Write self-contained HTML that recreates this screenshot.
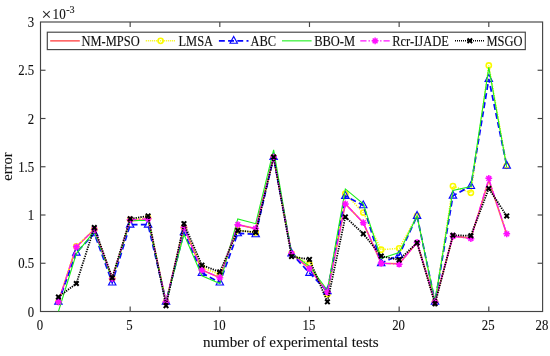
<!DOCTYPE html><html><head><meta charset="utf-8"><title>chart</title>
<style>html,body{margin:0;padding:0;background:#fff;}svg{display:block;}text{font-family:"Liberation Serif","Times New Roman",serif;fill:#111;stroke:#111;stroke-width:0.1;}</style></head><body>
<svg width="550" height="356" viewBox="0 0 550 356">
<rect x="0" y="0" width="550" height="356" fill="#fff"/>
<defs><clipPath id="c"><rect x="40.50" y="22.00" width="502.10" height="289.50"/></clipPath></defs>
<rect x="40.50" y="22.00" width="502.10" height="289.50" fill="none" stroke="#444" stroke-width="1.15"/>
<line x1="130.16" y1="311.50" x2="130.16" y2="306.50" stroke="#444" stroke-width="1.15"/>
<line x1="130.16" y1="22.00" x2="130.16" y2="27.00" stroke="#444" stroke-width="1.15"/>
<line x1="219.82" y1="311.50" x2="219.82" y2="306.50" stroke="#444" stroke-width="1.15"/>
<line x1="219.82" y1="22.00" x2="219.82" y2="27.00" stroke="#444" stroke-width="1.15"/>
<line x1="309.48" y1="311.50" x2="309.48" y2="306.50" stroke="#444" stroke-width="1.15"/>
<line x1="309.48" y1="22.00" x2="309.48" y2="27.00" stroke="#444" stroke-width="1.15"/>
<line x1="399.14" y1="311.50" x2="399.14" y2="306.50" stroke="#444" stroke-width="1.15"/>
<line x1="399.14" y1="22.00" x2="399.14" y2="27.00" stroke="#444" stroke-width="1.15"/>
<line x1="488.80" y1="311.50" x2="488.80" y2="306.50" stroke="#444" stroke-width="1.15"/>
<line x1="488.80" y1="22.00" x2="488.80" y2="27.00" stroke="#444" stroke-width="1.15"/>
<line x1="40.50" y1="263.25" x2="45.50" y2="263.25" stroke="#444" stroke-width="1.15"/>
<line x1="542.60" y1="263.25" x2="537.60" y2="263.25" stroke="#444" stroke-width="1.15"/>
<line x1="40.50" y1="215.00" x2="45.50" y2="215.00" stroke="#444" stroke-width="1.15"/>
<line x1="542.60" y1="215.00" x2="537.60" y2="215.00" stroke="#444" stroke-width="1.15"/>
<line x1="40.50" y1="166.75" x2="45.50" y2="166.75" stroke="#444" stroke-width="1.15"/>
<line x1="542.60" y1="166.75" x2="537.60" y2="166.75" stroke="#444" stroke-width="1.15"/>
<line x1="40.50" y1="118.50" x2="45.50" y2="118.50" stroke="#444" stroke-width="1.15"/>
<line x1="542.60" y1="118.50" x2="537.60" y2="118.50" stroke="#444" stroke-width="1.15"/>
<line x1="40.50" y1="70.25" x2="45.50" y2="70.25" stroke="#444" stroke-width="1.15"/>
<line x1="542.60" y1="70.25" x2="537.60" y2="70.25" stroke="#444" stroke-width="1.15"/>
<text transform="translate(39.90,329.80) scale(1,1.080)" font-size="12.8" text-anchor="middle">0</text>
<text transform="translate(129.56,329.80) scale(1,1.080)" font-size="12.8" text-anchor="middle">5</text>
<text transform="translate(219.22,329.80) scale(1,1.080)" font-size="12.8" text-anchor="middle">10</text>
<text transform="translate(308.88,329.80) scale(1,1.080)" font-size="12.8" text-anchor="middle">15</text>
<text transform="translate(398.54,329.80) scale(1,1.080)" font-size="12.8" text-anchor="middle">20</text>
<text transform="translate(488.20,329.80) scale(1,1.080)" font-size="12.8" text-anchor="middle">25</text>
<text transform="translate(542.00,329.80) scale(1,1.080)" font-size="12.8" text-anchor="middle">28</text>
<text transform="translate(34.20,316.70) scale(1,1.080)" font-size="12.8" text-anchor="end">0</text>
<text transform="translate(34.20,268.45) scale(1,1.080)" font-size="12.8" text-anchor="end">0.5</text>
<text transform="translate(34.20,220.20) scale(1,1.080)" font-size="12.8" text-anchor="end">1</text>
<text transform="translate(34.20,171.95) scale(1,1.080)" font-size="12.8" text-anchor="end">1.5</text>
<text transform="translate(34.20,123.70) scale(1,1.080)" font-size="12.8" text-anchor="end">2</text>
<text transform="translate(34.20,75.45) scale(1,1.080)" font-size="12.8" text-anchor="end">2.5</text>
<text transform="translate(34.20,27.20) scale(1,1.080)" font-size="12.8" text-anchor="end">3</text>
<text transform="translate(41.40,20.40) scale(1,1.000)" font-size="17.5" text-anchor="start">×</text>
<text transform="translate(52.60,19.30) scale(1,1.080)" font-size="13.1" text-anchor="start">10</text>
<text transform="translate(66.20,13.40) scale(1,1.040)" font-size="10.2" text-anchor="start">-3</text>
<text x="290.8" y="347" font-size="15.1" text-anchor="middle">number of experimental tests</text>
<text transform="translate(11.6,166.6) rotate(-90)" font-size="14.7" text-anchor="middle">error</text>
<g clip-path="url(#c)" fill="none">
<polyline points="58.43,301.85 76.36,246.84 94.30,229.48 112.23,278.69 130.16,220.79 148.09,219.82 166.03,301.85 183.96,227.55 201.89,270.00 219.82,277.73 237.75,224.65 255.69,228.51 273.62,157.10 291.55,253.60 309.48,268.56 327.41,292.20 345.35,203.90 363.28,222.72 381.21,263.25 399.14,263.73 417.07,242.50 435.01,301.85 452.94,236.23 470.87,238.16 488.80,180.26 506.74,234.30" fill="none" stroke="#ff6060" stroke-width="1.6"/>
<polyline points="58.43,301.85 76.36,246.36 94.30,229.48 112.23,278.69 130.16,219.82 148.09,217.89 166.03,301.85 183.96,227.55 201.89,267.59 219.82,274.35 237.75,230.44 255.69,232.37 273.62,157.10 291.55,253.60 309.48,264.22 327.41,294.13 345.35,193.77 363.28,212.59 381.21,249.74 399.14,248.29 417.07,215.96 435.01,301.85 452.94,186.05 470.87,192.81 488.80,65.43 506.74,165.78" fill="none" stroke="#f6f600" stroke-width="1.5" stroke-dasharray="1.2 1.2"/>
<circle cx="58.43" cy="301.85" r="2.6" fill="none" stroke="#fafa00" stroke-width="1.6"/>
<circle cx="76.36" cy="246.36" r="2.6" fill="none" stroke="#fafa00" stroke-width="1.6"/>
<circle cx="94.30" cy="229.48" r="2.6" fill="none" stroke="#fafa00" stroke-width="1.6"/>
<circle cx="112.23" cy="278.69" r="2.6" fill="none" stroke="#fafa00" stroke-width="1.6"/>
<circle cx="130.16" cy="219.82" r="2.6" fill="none" stroke="#fafa00" stroke-width="1.6"/>
<circle cx="148.09" cy="217.89" r="2.6" fill="none" stroke="#fafa00" stroke-width="1.6"/>
<circle cx="166.03" cy="301.85" r="2.6" fill="none" stroke="#fafa00" stroke-width="1.6"/>
<circle cx="183.96" cy="227.55" r="2.6" fill="none" stroke="#fafa00" stroke-width="1.6"/>
<circle cx="201.89" cy="267.59" r="2.6" fill="none" stroke="#fafa00" stroke-width="1.6"/>
<circle cx="219.82" cy="274.35" r="2.6" fill="none" stroke="#fafa00" stroke-width="1.6"/>
<circle cx="237.75" cy="230.44" r="2.6" fill="none" stroke="#fafa00" stroke-width="1.6"/>
<circle cx="255.69" cy="232.37" r="2.6" fill="none" stroke="#fafa00" stroke-width="1.6"/>
<circle cx="273.62" cy="157.10" r="2.6" fill="none" stroke="#fafa00" stroke-width="1.6"/>
<circle cx="291.55" cy="253.60" r="2.6" fill="none" stroke="#fafa00" stroke-width="1.6"/>
<circle cx="309.48" cy="264.22" r="2.6" fill="none" stroke="#fafa00" stroke-width="1.6"/>
<circle cx="327.41" cy="294.13" r="2.6" fill="none" stroke="#fafa00" stroke-width="1.6"/>
<circle cx="345.35" cy="193.77" r="2.6" fill="none" stroke="#fafa00" stroke-width="1.6"/>
<circle cx="363.28" cy="212.59" r="2.6" fill="none" stroke="#fafa00" stroke-width="1.6"/>
<circle cx="381.21" cy="249.74" r="2.6" fill="none" stroke="#fafa00" stroke-width="1.6"/>
<circle cx="399.14" cy="248.29" r="2.6" fill="none" stroke="#fafa00" stroke-width="1.6"/>
<circle cx="417.07" cy="215.96" r="2.6" fill="none" stroke="#fafa00" stroke-width="1.6"/>
<circle cx="435.01" cy="301.85" r="2.6" fill="none" stroke="#fafa00" stroke-width="1.6"/>
<circle cx="452.94" cy="186.05" r="2.6" fill="none" stroke="#fafa00" stroke-width="1.6"/>
<circle cx="470.87" cy="192.81" r="2.6" fill="none" stroke="#fafa00" stroke-width="1.6"/>
<circle cx="488.80" cy="65.43" r="2.6" fill="none" stroke="#fafa00" stroke-width="1.6"/>
<circle cx="506.74" cy="165.78" r="2.6" fill="none" stroke="#fafa00" stroke-width="1.6"/>
<polyline points="58.43,301.85 76.36,252.63 94.30,233.33 112.23,282.55 130.16,224.65 148.09,224.65 166.03,301.85 183.96,232.37 201.89,272.90 219.82,282.55 237.75,233.33 255.69,234.30 273.62,157.10 291.55,253.60 309.48,272.90 327.41,291.24 345.35,195.99 363.28,205.35 381.21,263.25 399.14,255.05 417.07,215.96 435.01,301.85 452.94,195.70 470.87,186.05 488.80,78.93 506.74,165.78" fill="none" stroke="#0808ff" stroke-width="1.75" stroke-dasharray="5.9 3.3"/>
<path d="M58.43 297.45 L62.13 304.27 L54.73 304.27 Z" fill="none" stroke="#0808ff" stroke-width="1.15" stroke-linejoin="miter"/>
<path d="M76.36 248.23 L80.06 255.05 L72.66 255.05 Z" fill="none" stroke="#0808ff" stroke-width="1.15" stroke-linejoin="miter"/>
<path d="M94.30 228.93 L98.00 235.75 L90.60 235.75 Z" fill="none" stroke="#0808ff" stroke-width="1.15" stroke-linejoin="miter"/>
<path d="M112.23 278.15 L115.93 284.97 L108.53 284.97 Z" fill="none" stroke="#0808ff" stroke-width="1.15" stroke-linejoin="miter"/>
<path d="M130.16 220.25 L133.86 227.07 L126.46 227.07 Z" fill="none" stroke="#0808ff" stroke-width="1.15" stroke-linejoin="miter"/>
<path d="M148.09 220.25 L151.79 227.07 L144.39 227.07 Z" fill="none" stroke="#0808ff" stroke-width="1.15" stroke-linejoin="miter"/>
<path d="M166.03 297.45 L169.72 304.27 L162.33 304.27 Z" fill="none" stroke="#0808ff" stroke-width="1.15" stroke-linejoin="miter"/>
<path d="M183.96 227.97 L187.66 234.79 L180.26 234.79 Z" fill="none" stroke="#0808ff" stroke-width="1.15" stroke-linejoin="miter"/>
<path d="M201.89 268.50 L205.59 275.32 L198.19 275.32 Z" fill="none" stroke="#0808ff" stroke-width="1.15" stroke-linejoin="miter"/>
<path d="M219.82 278.15 L223.52 284.97 L216.12 284.97 Z" fill="none" stroke="#0808ff" stroke-width="1.15" stroke-linejoin="miter"/>
<path d="M237.75 228.93 L241.45 235.75 L234.05 235.75 Z" fill="none" stroke="#0808ff" stroke-width="1.15" stroke-linejoin="miter"/>
<path d="M255.69 229.90 L259.39 236.72 L251.99 236.72 Z" fill="none" stroke="#0808ff" stroke-width="1.15" stroke-linejoin="miter"/>
<path d="M273.62 152.70 L277.32 159.52 L269.92 159.52 Z" fill="none" stroke="#0808ff" stroke-width="1.15" stroke-linejoin="miter"/>
<path d="M291.55 249.20 L295.25 256.02 L287.85 256.02 Z" fill="none" stroke="#0808ff" stroke-width="1.15" stroke-linejoin="miter"/>
<path d="M309.48 268.50 L313.18 275.32 L305.78 275.32 Z" fill="none" stroke="#0808ff" stroke-width="1.15" stroke-linejoin="miter"/>
<path d="M327.41 286.84 L331.11 293.66 L323.71 293.66 Z" fill="none" stroke="#0808ff" stroke-width="1.15" stroke-linejoin="miter"/>
<path d="M345.35 191.59 L349.05 198.41 L341.65 198.41 Z" fill="none" stroke="#0808ff" stroke-width="1.15" stroke-linejoin="miter"/>
<path d="M363.28 200.95 L366.98 207.77 L359.58 207.77 Z" fill="none" stroke="#0808ff" stroke-width="1.15" stroke-linejoin="miter"/>
<path d="M381.21 258.85 L384.91 265.67 L377.51 265.67 Z" fill="none" stroke="#0808ff" stroke-width="1.15" stroke-linejoin="miter"/>
<path d="M399.14 250.65 L402.84 257.47 L395.44 257.47 Z" fill="none" stroke="#0808ff" stroke-width="1.15" stroke-linejoin="miter"/>
<path d="M417.07 211.56 L420.77 218.38 L413.38 218.38 Z" fill="none" stroke="#0808ff" stroke-width="1.15" stroke-linejoin="miter"/>
<path d="M435.01 297.45 L438.71 304.27 L431.31 304.27 Z" fill="none" stroke="#0808ff" stroke-width="1.15" stroke-linejoin="miter"/>
<path d="M452.94 191.30 L456.64 198.12 L449.24 198.12 Z" fill="none" stroke="#0808ff" stroke-width="1.15" stroke-linejoin="miter"/>
<path d="M470.87 181.65 L474.57 188.47 L467.17 188.47 Z" fill="none" stroke="#0808ff" stroke-width="1.15" stroke-linejoin="miter"/>
<path d="M488.80 74.53 L492.50 81.35 L485.10 81.35 Z" fill="none" stroke="#0808ff" stroke-width="1.15" stroke-linejoin="miter"/>
<path d="M506.74 161.38 L510.44 168.20 L503.04 168.20 Z" fill="none" stroke="#0808ff" stroke-width="1.15" stroke-linejoin="miter"/>
<polyline points="58.43,311.50 76.36,253.60 94.30,231.41 112.23,279.65 130.16,220.79 148.09,220.31 166.03,301.85 183.96,234.30 201.89,275.80 219.82,283.51 237.75,218.86 255.69,223.69 273.62,149.86 291.55,253.60 309.48,266.14 327.41,290.27 345.35,188.94 363.28,203.90 381.21,258.43 399.14,252.63 417.07,215.96 435.01,301.85 452.94,190.39 470.87,186.53 488.80,67.36 506.74,167.23" fill="none" stroke="#1cf01c" stroke-width="1.1"/>
<polyline points="58.43,301.85 76.36,246.84 94.30,229.48 112.23,278.69 130.16,219.82 148.09,218.86 166.03,301.85 183.96,227.55 201.89,270.00 219.82,277.73 237.75,224.65 255.69,228.51 273.62,157.10 291.55,253.60 309.48,268.56 327.41,292.20 345.35,203.90 363.28,222.72 381.21,263.25 399.14,264.22 417.07,242.50 435.01,301.85 452.94,236.23 470.87,238.64 488.80,178.33 506.74,233.82" fill="none" stroke="#ff10ff" stroke-width="1.15" stroke-dasharray="6.2 2 1.4 2"/>
<path d="M58.43 298.45V305.25M55.03 301.85H61.83M56.03 299.45L60.84 304.25M56.03 304.25L60.84 299.45" fill="none" stroke="#ff10ff" stroke-width="1.5"/>
<path d="M76.36 243.44V250.25M72.96 246.84H79.76M73.96 244.44L78.77 249.25M73.96 249.25L78.77 244.44" fill="none" stroke="#ff10ff" stroke-width="1.5"/>
<path d="M94.30 226.08V232.88M90.90 229.48H97.70M91.89 227.07L96.70 231.88M91.89 231.88L96.70 227.07" fill="none" stroke="#ff10ff" stroke-width="1.5"/>
<path d="M112.23 275.29V282.09M108.83 278.69H115.63M109.82 276.29L114.63 281.09M109.82 281.09L114.63 276.29" fill="none" stroke="#ff10ff" stroke-width="1.5"/>
<path d="M130.16 216.42V223.22M126.76 219.82H133.56M127.76 217.42L132.56 222.23M127.76 222.23L132.56 217.42" fill="none" stroke="#ff10ff" stroke-width="1.5"/>
<path d="M148.09 215.46V222.26M144.69 218.86H151.49M145.69 216.46L150.50 221.26M145.69 221.26L150.50 216.46" fill="none" stroke="#ff10ff" stroke-width="1.5"/>
<path d="M166.03 298.45V305.25M162.62 301.85H169.43M163.62 299.45L168.43 304.25M163.62 304.25L168.43 299.45" fill="none" stroke="#ff10ff" stroke-width="1.5"/>
<path d="M183.96 224.15V230.95M180.56 227.55H187.36M181.55 225.14L186.36 229.95M181.55 229.95L186.36 225.14" fill="none" stroke="#ff10ff" stroke-width="1.5"/>
<path d="M201.89 266.61V273.40M198.49 270.00H205.29M199.49 267.60L204.29 272.41M199.49 272.41L204.29 267.60" fill="none" stroke="#ff10ff" stroke-width="1.5"/>
<path d="M219.82 274.33V281.12M216.42 277.73H223.22M217.42 275.32L222.23 280.13M217.42 280.13L222.23 275.32" fill="none" stroke="#ff10ff" stroke-width="1.5"/>
<path d="M237.75 221.25V228.05M234.35 224.65H241.15M235.35 222.25L240.16 227.05M235.35 227.05L240.16 222.25" fill="none" stroke="#ff10ff" stroke-width="1.5"/>
<path d="M255.69 225.11V231.91M252.29 228.51H259.09M253.28 226.11L258.09 230.91M253.28 230.91L258.09 226.11" fill="none" stroke="#ff10ff" stroke-width="1.5"/>
<path d="M273.62 153.70V160.50M270.22 157.10H277.02M271.21 154.70L276.02 159.50M271.21 159.50L276.02 154.70" fill="none" stroke="#ff10ff" stroke-width="1.5"/>
<path d="M291.55 250.20V257.00M288.15 253.60H294.95M289.15 251.20L293.95 256.00M289.15 256.00L293.95 251.20" fill="none" stroke="#ff10ff" stroke-width="1.5"/>
<path d="M309.48 265.16V271.96M306.08 268.56H312.88M307.08 266.15L311.89 270.96M307.08 270.96L311.89 266.15" fill="none" stroke="#ff10ff" stroke-width="1.5"/>
<path d="M327.41 288.80V295.60M324.01 292.20H330.81M325.01 289.80L329.82 294.60M325.01 294.60L329.82 289.80" fill="none" stroke="#ff10ff" stroke-width="1.5"/>
<path d="M345.35 200.50V207.30M341.95 203.90H348.75M342.94 201.50L347.75 206.31M342.94 206.31L347.75 201.50" fill="none" stroke="#ff10ff" stroke-width="1.5"/>
<path d="M363.28 219.32V226.12M359.88 222.72H366.68M360.87 220.32L365.68 225.12M360.87 225.12L365.68 220.32" fill="none" stroke="#ff10ff" stroke-width="1.5"/>
<path d="M381.21 259.85V266.65M377.81 263.25H384.61M378.81 260.85L383.61 265.65M378.81 265.65L383.61 260.85" fill="none" stroke="#ff10ff" stroke-width="1.5"/>
<path d="M399.14 260.82V267.62M395.74 264.22H402.54M396.74 261.81L401.55 266.62M396.74 266.62L401.55 261.81" fill="none" stroke="#ff10ff" stroke-width="1.5"/>
<path d="M417.07 239.10V245.90M413.68 242.50H420.47M414.67 240.10L419.48 244.91M414.67 244.91L419.48 240.10" fill="none" stroke="#ff10ff" stroke-width="1.5"/>
<path d="M435.01 298.45V305.25M431.61 301.85H438.41M432.60 299.45L437.41 304.25M432.60 304.25L437.41 299.45" fill="none" stroke="#ff10ff" stroke-width="1.5"/>
<path d="M452.94 232.83V239.63M449.54 236.23H456.34M450.54 233.83L455.34 238.63M450.54 238.63L455.34 233.83" fill="none" stroke="#ff10ff" stroke-width="1.5"/>
<path d="M470.87 235.24V242.04M467.47 238.64H474.27M468.47 236.24L473.28 241.05M468.47 241.05L473.28 236.24" fill="none" stroke="#ff10ff" stroke-width="1.5"/>
<path d="M488.80 174.93V181.73M485.40 178.33H492.20M486.40 175.93L491.21 180.73M486.40 180.73L491.21 175.93" fill="none" stroke="#ff10ff" stroke-width="1.5"/>
<path d="M506.74 230.42V237.22M503.34 233.82H510.14M504.33 231.41L509.14 236.22M504.33 236.22L509.14 231.41" fill="none" stroke="#ff10ff" stroke-width="1.5"/>
<polyline points="58.43,297.02 76.36,283.51 94.30,227.55 112.23,277.73 130.16,218.86 148.09,215.96 166.03,305.71 183.96,223.69 201.89,265.18 219.82,271.94 237.75,230.44 255.69,232.37 273.62,157.10 291.55,256.50 309.48,259.39 327.41,301.85 345.35,216.93 363.28,233.82 381.21,256.01 399.14,259.87 417.07,242.79 435.01,303.78 452.94,235.26 470.87,235.75 488.80,188.46 506.74,215.96" fill="none" stroke="#000" stroke-width="1.8" stroke-dasharray="1.3 1.1"/>
<path d="M56.13 294.72L60.73 299.32M56.13 299.32L60.73 294.72" fill="none" stroke="#000" stroke-width="2"/>
<path d="M74.06 281.21L78.66 285.81M74.06 285.81L78.66 281.21" fill="none" stroke="#000" stroke-width="2"/>
<path d="M92.00 225.25L96.60 229.85M92.00 229.85L96.60 225.25" fill="none" stroke="#000" stroke-width="2"/>
<path d="M109.93 275.43L114.53 280.03M109.93 280.03L114.53 275.43" fill="none" stroke="#000" stroke-width="2"/>
<path d="M127.86 216.56L132.46 221.16M127.86 221.16L132.46 216.56" fill="none" stroke="#000" stroke-width="2"/>
<path d="M145.79 213.66L150.39 218.26M145.79 218.26L150.39 213.66" fill="none" stroke="#000" stroke-width="2"/>
<path d="M163.72 303.41L168.33 308.01M163.72 308.01L168.33 303.41" fill="none" stroke="#000" stroke-width="2"/>
<path d="M181.66 221.38L186.26 225.99M181.66 225.99L186.26 221.38" fill="none" stroke="#000" stroke-width="2"/>
<path d="M199.59 262.88L204.19 267.48M199.59 267.48L204.19 262.88" fill="none" stroke="#000" stroke-width="2"/>
<path d="M217.52 269.63L222.12 274.24M217.52 274.24L222.12 269.63" fill="none" stroke="#000" stroke-width="2"/>
<path d="M235.45 228.14L240.05 232.74M235.45 232.74L240.05 228.14" fill="none" stroke="#000" stroke-width="2"/>
<path d="M253.39 230.07L257.99 234.67M253.39 234.67L257.99 230.07" fill="none" stroke="#000" stroke-width="2"/>
<path d="M271.32 154.80L275.92 159.40M271.32 159.40L275.92 154.80" fill="none" stroke="#000" stroke-width="2"/>
<path d="M289.25 254.19L293.85 258.80M289.25 258.80L293.85 254.19" fill="none" stroke="#000" stroke-width="2"/>
<path d="M307.18 257.09L311.78 261.69M307.18 261.69L311.78 257.09" fill="none" stroke="#000" stroke-width="2"/>
<path d="M325.11 299.55L329.71 304.15M325.11 304.15L329.71 299.55" fill="none" stroke="#000" stroke-width="2"/>
<path d="M343.05 214.63L347.65 219.23M343.05 219.23L347.65 214.63" fill="none" stroke="#000" stroke-width="2"/>
<path d="M360.98 231.52L365.58 236.12M360.98 236.12L365.58 231.52" fill="none" stroke="#000" stroke-width="2"/>
<path d="M378.91 253.71L383.51 258.31M378.91 258.31L383.51 253.71" fill="none" stroke="#000" stroke-width="2"/>
<path d="M396.84 257.57L401.44 262.17M396.84 262.17L401.44 257.57" fill="none" stroke="#000" stroke-width="2"/>
<path d="M414.77 240.49L419.38 245.09M414.77 245.09L419.38 240.49" fill="none" stroke="#000" stroke-width="2"/>
<path d="M432.71 301.48L437.31 306.08M432.71 306.08L437.31 301.48" fill="none" stroke="#000" stroke-width="2"/>
<path d="M450.64 232.96L455.24 237.56M450.64 237.56L455.24 232.96" fill="none" stroke="#000" stroke-width="2"/>
<path d="M468.57 233.45L473.17 238.05M468.57 238.05L473.17 233.45" fill="none" stroke="#000" stroke-width="2"/>
<path d="M486.50 186.16L491.10 190.76M486.50 190.76L491.10 186.16" fill="none" stroke="#000" stroke-width="2"/>
<path d="M504.44 213.66L509.04 218.26M504.44 218.26L509.04 213.66" fill="none" stroke="#000" stroke-width="2"/>
</g>
<rect x="47.30" y="32.20" width="478.00" height="17.40" fill="#fff" stroke="#444" stroke-width="1.15"/>
<line x1="50.20" y1="40.85" x2="79.80" y2="40.85" stroke="#ff6060" stroke-width="1.6"/>
<text transform="translate(81.40,45.50) scale(1,1.100)" font-size="12.5" text-anchor="start">NM-MPSO</text>
<line x1="145.80" y1="40.85" x2="175.40" y2="40.85" stroke="#f6f600" stroke-width="1.5" stroke-dasharray="1 1"/>
<circle cx="160.60" cy="40.85" r="2.6" fill="none" stroke="#fafa00" stroke-width="1.6"/>
<text transform="translate(178.40,45.50) scale(1,1.100)" font-size="12.5" text-anchor="start">LMSA</text>
<line x1="218.90" y1="40.85" x2="248.50" y2="40.85" stroke="#0808ff" stroke-width="1.75" stroke-dasharray="5.9 3.3"/>
<path d="M233.70 36.45 L237.40 43.27 L230.00 43.27 Z" fill="none" stroke="#0808ff" stroke-width="1.15" stroke-linejoin="miter"/>
<text transform="translate(250.40,45.50) scale(1,1.100)" font-size="12.5" text-anchor="start">ABC</text>
<line x1="282.00" y1="40.85" x2="311.60" y2="40.85" stroke="#1cf01c" stroke-width="1.1"/>
<text transform="translate(314.20,45.50) scale(1,1.100)" font-size="12.5" text-anchor="start">BBO-M</text>
<line x1="360.30" y1="40.85" x2="389.90" y2="40.85" stroke="#ff10ff" stroke-width="1.15" stroke-dasharray="6.2 2 1.4 2"/>
<path d="M375.10 37.45V44.25M371.70 40.85H378.50M372.70 38.45L377.50 43.25M372.70 43.25L377.50 38.45" fill="none" stroke="#ff10ff" stroke-width="1.5"/>
<text transform="translate(392.20,45.50) scale(1,1.100)" font-size="12.5" text-anchor="start">Rcr-IJADE</text>
<line x1="455.00" y1="40.85" x2="484.60" y2="40.85" stroke="#000" stroke-width="1.5" stroke-dasharray="1 1"/>
<path d="M467.50 38.55L472.10 43.15M467.50 43.15L472.10 38.55" fill="none" stroke="#000" stroke-width="2"/>
<text transform="translate(486.40,45.50) scale(1,1.100)" font-size="12.5" text-anchor="start">MSGO</text>
</svg></body></html>
